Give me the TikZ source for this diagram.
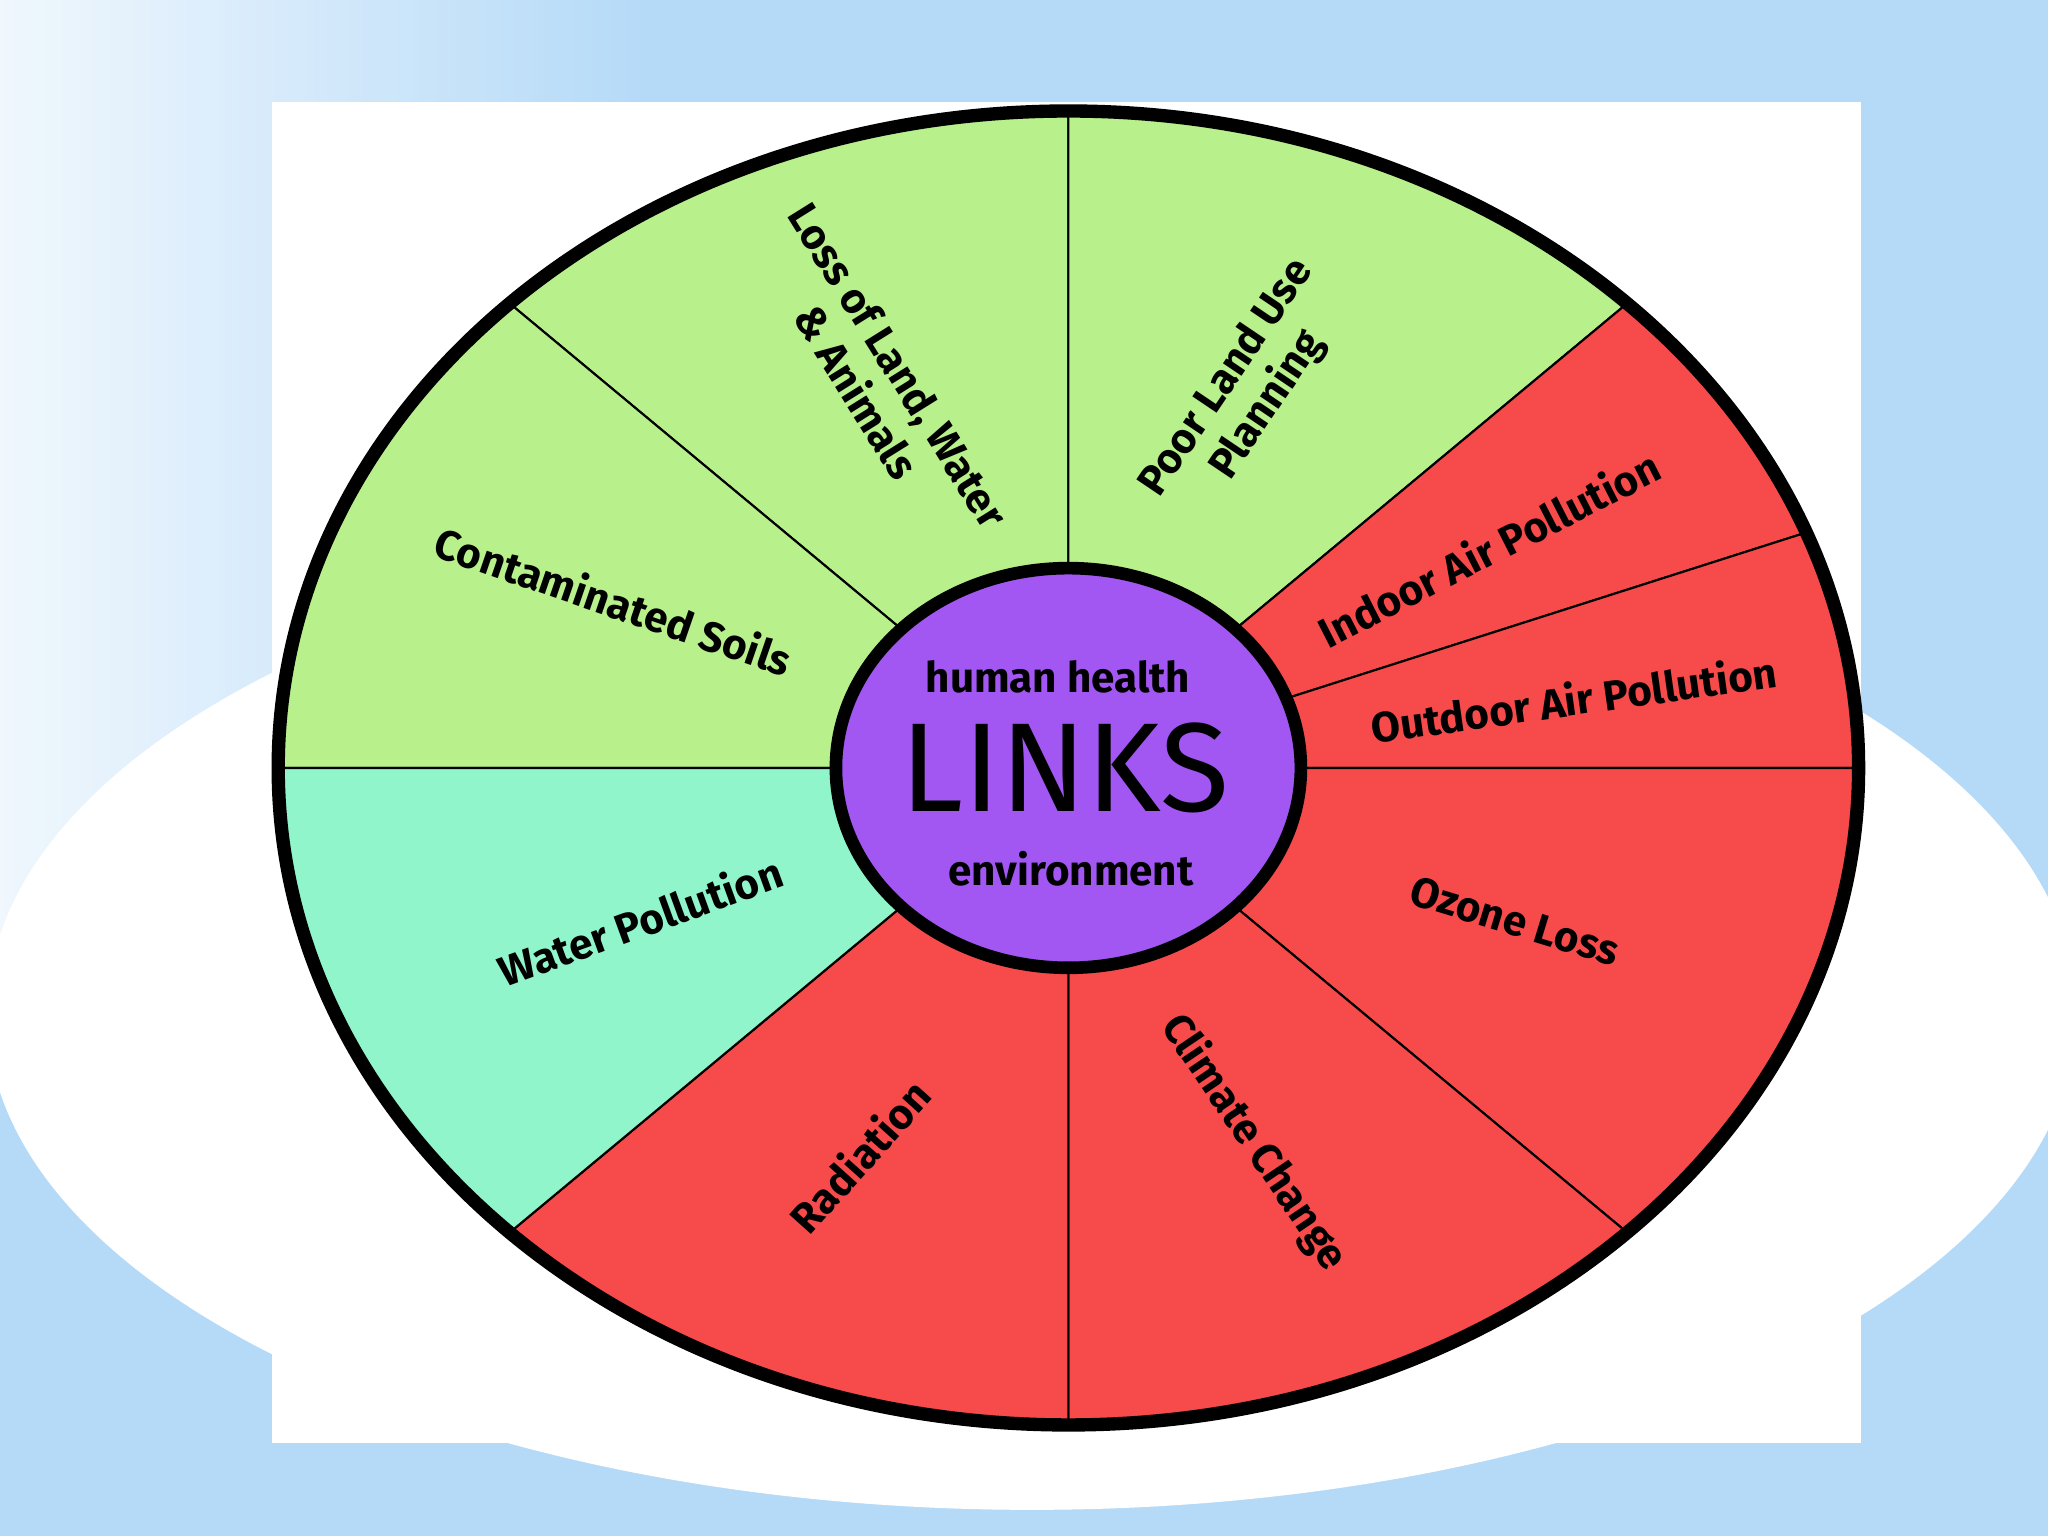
\documentclass[tikz,border=0pt]{standalone}
\usepackage{fontspec}
\setmainfont{Fira Sans}
\usetikzlibrary{calc}
\begin{document}
\begin{tikzpicture}[x=0.01306cm,y=0.01306cm,
  lab/.style={font=\fontsize{12}{14}\selectfont\bfseries,align=center,text=black},
  sect/.style={draw=black,line width=0.6pt}]
\definecolor{bgblue}{HTML}{B5DAF8}
\definecolor{lg}{HTML}{B8F08C}
\definecolor{aq}{HTML}{90F5CB}
\definecolor{rd}{HTML}{F74B4B}
\definecolor{pu}{HTML}{A257F2}
\useasboundingbox (0,0) rectangle (1568,1176);
% background
\fill[bgblue] (0,0) rectangle (1568,1176);
\shade[left color=white,right color=bgblue,opacity=0.8] (0,400) rectangle (500,1176);
\fill[white] (790,400) ellipse [x radius=800, y radius=380];
\fill[white] (208,71) rectangle (1425,1098);
\coordinate (c) at (818,588);
% sectors
\foreach \a/\b/\col in {90/135/lg,135/180/lg,45/90/lg,21/45/rd,0/21/rd,-45/0/rd,-90/-45/rd,-135/-90/rd,180/225/aq}{
  \filldraw[fill=\col,sect] (c) -- ($(c)+(\a:605 and 503)$) arc[start angle=\a,end angle=\b,x radius=605,y radius=503] -- cycle;
}
\draw[line width=3.8pt] (c) ellipse [x radius=605, y radius=503];
\fill[pu,draw=black,line width=3.6pt] (c) ellipse [x radius=178, y radius=153];
% labels
\node[lab,rotate=-58] (l1) at (672,886) {Loss of Land, Water\\\& Animals};
\node[lab,rotate=56] (l2) at (955,876) {Poor Land Use\\Planning};
\node[lab,rotate=-19] (l3) at (470,716) {Contaminated Soils};
\node[lab,rotate=27] (l4) at (1140,756) {Indoor Air Pollution};
\node[lab,rotate=8] (l5) at (1205,641) {Outdoor Air Pollution};
\node[lab,rotate=-17] (l6) at (1160,471) {Ozone Loss};
\node[lab,rotate=-56] (l7) at (960,301) {Climate Change};
\node[lab,rotate=48] (l8) at (658,291) {Radiation};
\node[lab,rotate=20] (l9) at (490,471) {Water Pollution};
\node[lab] (hh) at (810,658) {human health};
\node[font=\fontsize{36}{38}\selectfont] (links) at (815,588) {LINKS};
\node[lab] (env) at (820,511) {environment};
\end{tikzpicture}
\end{document}
